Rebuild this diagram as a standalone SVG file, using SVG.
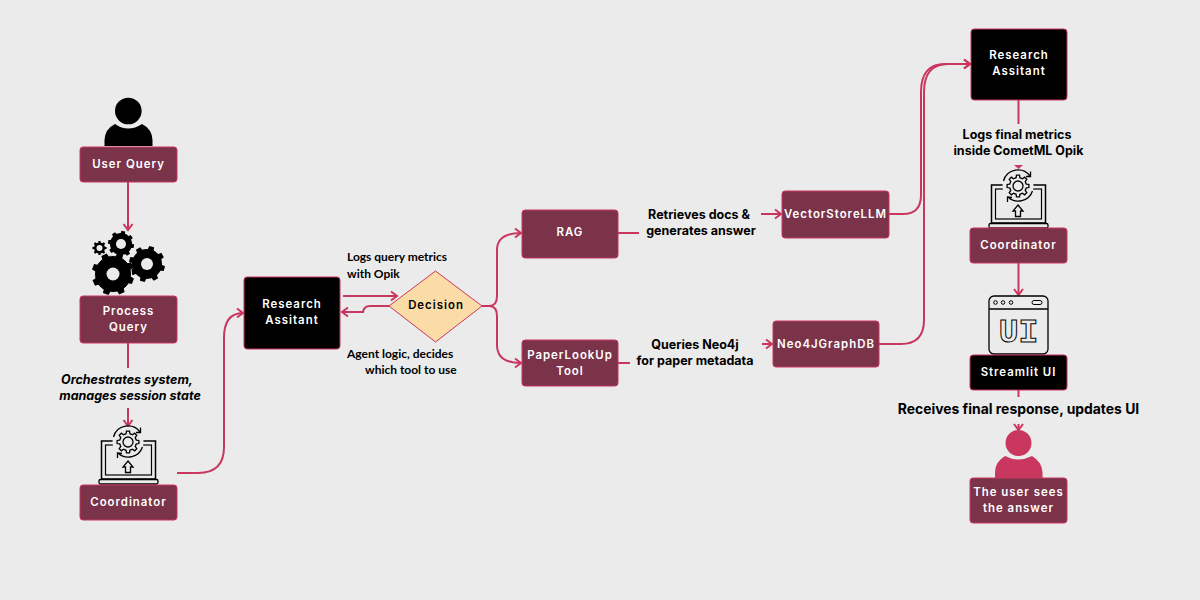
<svg xmlns="http://www.w3.org/2000/svg" width="1200" height="600" viewBox="0 0 1200 600">
<style>
.box{fill:#7b334a;stroke:#c9375f;stroke-width:1}
.blk{fill:#000;stroke:#c9375f;stroke-width:1}
.t{font-family:"Inter","Open Sans",sans-serif;font-weight:600;font-size:11.4px;letter-spacing:1px;fill:#fff;text-anchor:middle}
.l{font-family:"Inter","Open Sans",sans-serif;font-weight:700;font-size:12.5px;fill:#000;text-anchor:middle}
.s{font-family:"Lato","Open Sans",sans-serif;font-weight:700;font-size:12px;fill:#000}
.c{fill:none;stroke:#c9375f;stroke-width:2}
.ln{fill:none;stroke:#000;stroke-width:1.5}
.bg{fill:#ebebeb}
</style>
<defs>
<marker id="a" markerUnits="userSpaceOnUse" markerWidth="12" markerHeight="12" refX="9" refY="6" orient="auto"><path d="M3,1.5 L9,6 L3,10.500" fill="none" stroke="#c9375f" stroke-width="2"/></marker>
<path id="g" d="M8.28,-1.91 L10.89,-1.53 L10.89,1.53 L8.28,1.91 L7.21,4.5 L8.78,6.62 L6.62,8.78 L4.5,7.21 L1.91,8.28 L1.53,10.89 L-1.53,10.89 L-1.91,8.28 L-4.5,7.21 L-6.62,8.78 L-8.78,6.62 L-7.21,4.5 L-8.28,1.91 L-10.89,1.53 L-10.89,-1.53 L-8.28,-1.91 L-7.21,-4.5 L-8.78,-6.62 L-6.62,-8.78 L-4.5,-7.21 L-1.91,-8.28 L-1.53,-10.89 L1.53,-10.89 L1.91,-8.28 L4.5,-7.21 L6.62,-8.78 L8.78,-6.62 L7.21,-4.5 Z"/>
<g id="laptop">
<rect x="101.500" y="441" width="54" height="38" class="ln"/>
<rect x="105.500" y="445" width="46" height="30" class="bg" stroke="#000" stroke-width="1.200"/>
<rect x="99" y="479.500" width="59" height="4.500" rx="1.500" class="bg" stroke="#000" stroke-width="1.300"/>
<circle cx="128" cy="442" r="15.500" class="bg"/>
<path d="M113.500,437 A15,15 0 0 1 140,432 M142.500,447 A15,15 0 0 1 118,453" class="ln" style="stroke-width:1.300"/>
<path d="M136,432.500 L140.500,432.500 L140.500,427.500 M122,453.500 L117.500,453 L117.500,458" class="ln" style="stroke-width:1.300"/>
<use href="#g" transform="translate(128,442)" fill="none" stroke="#000" stroke-width="1.300"/>
<circle cx="128" cy="442" r="5" fill="none" stroke="#000" stroke-width="1.300"/>
<path d="M128,461 L133,467 H130.500 V472.500 H125.500 V467 H123 Z" class="ln" style="stroke-width:1.300"/>
</g>
</defs>
<rect width="1200" height="600" fill="#ebebeb"/>
<g id="connectors">
<path class="c" marker-end="url(#a)" d="M128,182 V230"/>
<path class="c" d="M128,343 V368"/>
<path class="c" marker-end="url(#a)" d="M128,408 V426"/>
<path class="c" marker-end="url(#a)" d="M177,473 H198 Q224,473 224,447 V338 Q224,313 243,313"/>
<path class="c" marker-end="url(#a)" d="M343,296 H397"/>
<path class="c" marker-end="url(#a)" d="M389,306 H370 Q364,306 363,312 H342"/>
<path class="c" marker-end="url(#a)" d="M482,306 H489 Q497,306 497,296 V250 Q497,233 521,233"/>
<path class="c" marker-end="url(#a)" d="M482,306 H489 Q497,306 497,316 V345 Q497,363 521,363"/>
<path class="c" d="M618,233 H639"/>
<path class="c" marker-end="url(#a)" d="M761,214 H781"/>
<path class="c" d="M618,363 H630"/>
<path class="c" marker-end="url(#a)" d="M762,344 H772"/>
<path class="c" marker-end="url(#a)" d="M889,214 H903 Q921,214 921,195 V92 Q921,64 945,64 H970"/>
<path class="c" marker-end="url(#a)" d="M879,344 H901 Q924,344 924,320 V92 Q924,64 948,64 H970"/>
<path class="c" d="M1018.500,100 V124"/>
<path d="M1014,165 H1023 L1018.500,169 Z" fill="#c9375f"/>
<path class="c" marker-end="url(#a)" d="M1018.500,263 V295"/>
<path class="c" d="M1018.500,390 V397"/>
<path class="c" marker-end="url(#a)" d="M1018.500,424 V430"/>
</g>
<g id="user-query">
<circle cx="128.300" cy="111" r="13.300"/>
<path d="M104.500,146 V140 Q105,129 115,124 Q128,133 142,124 Q152,129 152.500,140 V146 Z"/>
<rect class="box" x="80" y="147" width="97" height="35" rx="3"/>
<text class="t" x="128.500" y="168">User Query</text>
</g>
<g id="process-query">
<use href="#g" transform="translate(99.500,248) scale(.65)"/><circle cx="99.500" cy="248" r="3" class="bg"/>
<circle cx="121" cy="244" r="11"/><use href="#g" transform="translate(121,244) rotate(10) scale(1.2)"/><circle cx="121" cy="244" r="5" class="bg"/>
<circle cx="147" cy="264" r="15"/><use href="#g" transform="translate(147,264) rotate(15) scale(1.65)"/><circle cx="147" cy="264" r="6" class="bg"/>
<circle cx="113" cy="274" r="18.500" stroke="#ebebeb" stroke-width="1"/><use href="#g" transform="translate(113,274) rotate(20) scale(1.95)"/><circle cx="113" cy="274" r="6.500" class="bg"/>
<rect class="box" x="80" y="296" width="97" height="47" rx="3"/>
<text class="t" x="128.500" y="315">Process</text><text class="t" x="128.500" y="331">Query</text>
</g>
<g id="coordinator-1">
<use href="#laptop"/>
<rect class="box" x="80" y="485" width="97" height="35" rx="3"/>
<text class="t" x="128.500" y="506">Coordinator</text>
</g>
<text class="l" x="127" y="384" style="font-style:italic">Orchestrates system,</text>
<text class="l" x="130" y="400" style="font-style:italic">manages session state</text>
<g id="research-1">
<rect class="blk" x="244" y="277" width="96" height="72" rx="3"/>
<text class="t" x="292" y="308">Research</text><text class="t" x="292" y="324">Assitant</text>
</g>
<text class="s" x="347" y="261">Logs query metrics</text>
<text class="s" x="347" y="278">with Opik</text>
<text class="s" x="347" y="358">Agent logic, decides</text>
<text class="s" x="365" y="374">which tool to use</text>
<g id="decision">
<path d="M389,306 L435.500,271 L482,306 L435.500,342 Z" fill="#fbdba6" stroke="#c9375f" stroke-width="1"/>
<text class="t" x="436" y="309" style="fill:#000">Decision</text>
</g>
<g id="rag">
<rect class="box" x="522" y="210" width="96" height="48" rx="3"/>
<text class="t" x="570" y="236">RAG</text>
</g>
<g id="paperlookup">
<rect class="box" x="522" y="340" width="96" height="46" rx="3"/>
<text class="t" x="570" y="359">PaperLookUp</text><text class="t" x="570" y="375">Tool</text>
</g>
<text class="l" x="699" y="219">Retrieves docs &amp;</text>
<text class="l" x="701" y="235">generates answer</text>
<text class="l" x="695" y="349">Queries Neo4j</text>
<text class="l" x="695" y="365">for paper metadata</text>
<g id="vectorstore">
<rect class="box" x="782" y="191" width="107" height="47" rx="3"/>
<text class="t" x="835.500" y="218">VectorStoreLLM</text>
</g>
<g id="neo4j">
<rect class="box" x="773" y="321" width="106" height="46" rx="3"/>
<text class="t" x="826" y="348">Neo4JGraphDB</text>
</g>
<g id="research-2">
<rect class="blk" x="971" y="29" width="96" height="71" rx="3"/>
<text class="t" x="1019" y="59">Research</text><text class="t" x="1019" y="75">Assitant</text>
</g>
<text class="l" x="1017" y="139">Logs final metrics</text>
<text class="l" x="1018.500" y="155">inside CometML Opik</text>
<g id="coordinator-2">
<use href="#laptop" transform="translate(890,-256)"/>
<rect class="box" x="970" y="228" width="97" height="35" rx="3"/>
<text class="t" x="1018.500" y="249">Coordinator</text>
</g>
<g id="streamlit">
<rect x="989" y="296" width="59" height="58" rx="5" class="bg" stroke="#000" stroke-width="1.300"/>
<path d="M989,309 H1048" class="ln" style="stroke-width:1.300"/>
<circle cx="995.500" cy="302.500" r="1.800" fill="none" stroke="#000"/><circle cx="1003" cy="302.500" r="1.800" fill="none" stroke="#000"/><circle cx="1011" cy="302.500" r="1.800" fill="none" stroke="#000"/>
<rect x="1032" y="300.500" width="10" height="4" rx="2" fill="none" stroke="#000"/>
<text x="1018.500" y="342" font-family="Liberation Mono,monospace" font-weight="700" font-size="33" text-anchor="middle" fill="none" stroke="#000" stroke-width="1">UI</text>
<rect class="blk" x="970" y="355" width="97" height="35" rx="3"/>
<text class="t" x="1018.500" y="376">Streamlit UI</text>
</g>
<text class="l" x="1018.500" y="414" style="font-size:13.900px">Receives final response, updates UI</text>
<g id="user-sees">
<circle cx="1018.500" cy="443" r="13" fill="#c9375f"/>
<path d="M995,478 V472 Q995,462 1005,456 Q1018,463 1032,456 Q1042,462 1042.500,472 V478 Z" fill="#c9375f"/>
<rect class="box" x="970" y="478" width="97" height="45" rx="3"/>
<text class="t" x="1018.500" y="496">The user sees</text><text class="t" x="1018.500" y="512">the answer</text>
</g>
</svg>
